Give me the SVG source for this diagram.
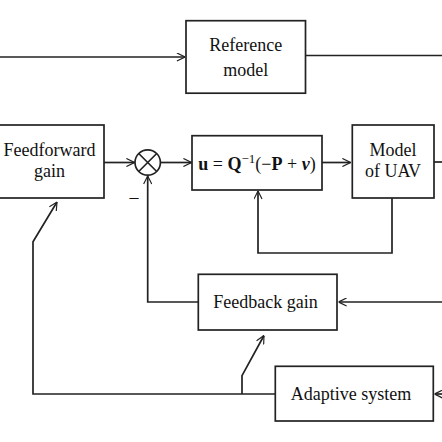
<svg xmlns="http://www.w3.org/2000/svg" width="442" height="442" viewBox="0 0 442 442">
<defs>
<marker id="ah" viewBox="0 0 10 10" refX="10" refY="5" markerWidth="9" markerHeight="9" markerUnits="userSpaceOnUse" orient="auto">
<path d="M1,0.5 L10,5 L1,9.5" fill="none" stroke="#222" stroke-width="1.3"/>
</marker>
<style>
.b{fill:#fff;stroke:#222;stroke-width:1.7}
.t{font-family:"Liberation Serif","Times New Roman",serif;font-size:18px;fill:#111;text-anchor:middle}
.c{fill:none;stroke:#222;stroke-width:1.7}
.a{marker-end:url(#ah)}
</style>
</defs>
<rect width="442" height="442" fill="#fff"/>
<g id="connectors">
<path class="c a" d="M0,57 H185"/>
<path class="c" d="M306,55.5 H442"/>
<path class="c a" d="M104,162.5 H134.5"/>
<path class="c a" d="M160.5,162.5 H191.5"/>
<path class="c a" d="M322,162.5 H350.5"/>
<path class="c" d="M434,162 H442"/>
<path class="c a" d="M392,198 V253 H258 V191"/>
<path class="c a" d="M198,302 H147.7 V176"/>
<path class="c a" d="M442,302 H338.5"/>
<path class="c a" d="M442,394 H434.5"/>
<path class="c a" d="M275,394 H33 V241.7 L57,202"/>
<path class="c a" d="M242,394 V375.7 L264,335.5"/>
<text x="134" y="203" class="t" font-size="16">–</text>
</g>
<g id="reference-model">
<rect class="b" x="186" y="20.7" width="119.5" height="72.5"/>
<text class="t" x="245.7" y="51">Reference</text>
<text class="t" x="245.7" y="76">model</text>
</g>
<g id="feedforward-gain">
<rect class="b" x="-2" y="125" width="106" height="73"/>
<text class="t" x="49.5" y="155.5">Feedforward</text>
<text class="t" x="49.5" y="177">gain</text>
</g>
<g id="sum">
<circle cx="147.7" cy="162.5" r="12.7" fill="#fff" stroke="#222" stroke-width="1.7"/>
<path class="c" d="M138.7,153.5 L156.7,171.5 M156.7,153.5 L138.7,171.5"/>
</g>
<g id="control-law">
<rect class="b" x="192" y="135.7" width="130" height="54.3"/>
<text class="t" x="257" y="170" font-size="19.5"><tspan font-weight="bold">u</tspan> = <tspan font-weight="bold">Q</tspan><tspan font-size="13" dy="-7.5">−1</tspan><tspan dy="7.5">(−</tspan><tspan font-weight="bold">P</tspan> + <tspan font-weight="bold" font-style="italic">ν</tspan>)</text>
</g>
<g id="model-of-uav">
<rect class="b" x="352.3" y="125" width="81.7" height="73"/>
<text class="t" x="393" y="155.5">Model</text>
<text class="t" x="393" y="177">of UAV</text>
</g>
<g id="feedback-gain">
<rect class="b" x="198.3" y="274.3" width="138.7" height="55.7"/>
<text class="t" x="265.5" y="308">Feedback gain</text>
</g>
<g id="adaptive-system">
<rect class="b" x="275.3" y="366.3" width="158" height="54.7"/>
<text class="t" x="351" y="400">Adaptive system</text>
</g>
</svg>
